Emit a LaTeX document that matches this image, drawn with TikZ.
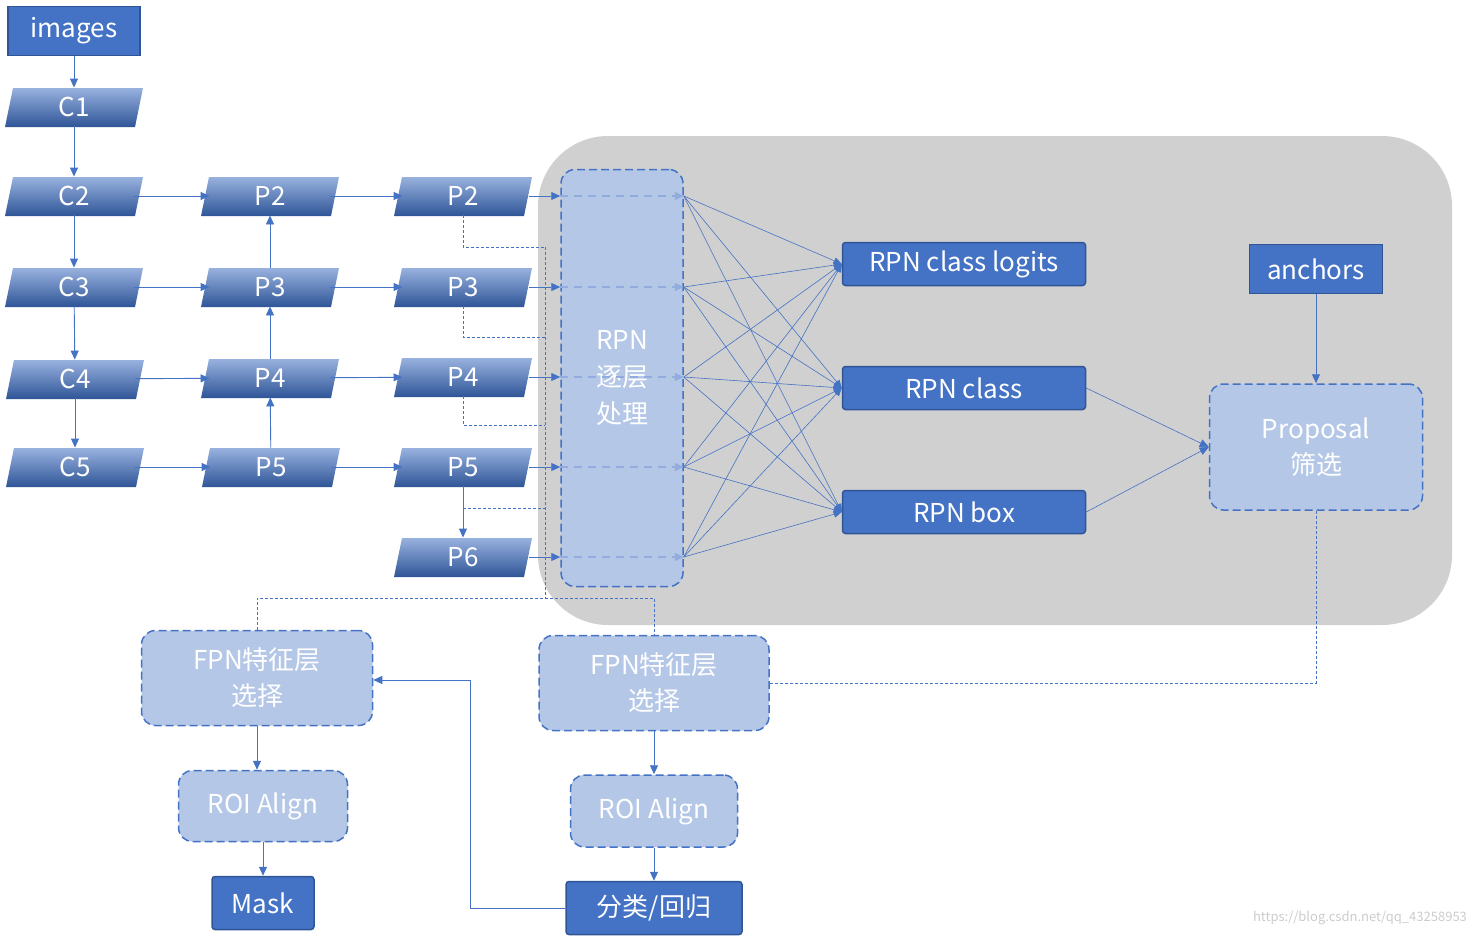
\documentclass[tikz,border=0pt]{standalone}
\usepackage{fontspec}
\setmainfont{Noto Sans CJK SC}
\usetikzlibrary{shapes.geometric,arrows.meta,calc}
\definecolor{blu}{HTML}{4472C4}
\definecolor{dblu}{HTML}{2F5597}
\definecolor{lblu}{HTML}{B4C7E7}
\definecolor{gry}{HTML}{D0D0D0}
\tikzset{every picture/.style={line width=0.9pt},
  feat/.style={minimum width=120pt,minimum height=38pt,inner sep=0pt,text=white,font=\fontsize{26}{28}\selectfont},
  solid box/.style={draw=dblu,line width=1.5pt,fill=blu,text=white,rounded corners=3pt,inner sep=0pt,font=\fontsize{26}{28}\selectfont},
  soft box/.style={draw=blu,line width=1.5pt,dash pattern=on 8pt off 4pt,fill=lblu,text=white,rounded corners=14pt,inner sep=0pt,align=center,font=\fontsize{26}{36}\selectfont},
  arr/.style={draw=blu,-{Triangle[width=8pt,length=9pt]}},
  dsh/.style={draw=blu,dash pattern=on 3pt off 2pt}}
% parallelogram feature map: name, x, y, text
\newcommand\featmap[4]{%
  \shade[top color=blu!55!white,middle color=blu,bottom color=dblu] (#2-61,#3-19) -- (#2+69,#3-19) -- (#2+61,#3+20) -- (#2-69,#3+20) -- cycle;
  \node[feat] (#1) at (#2,#3) {#4};}
\begin{document}
\begin{tikzpicture}[x=1pt,y=1pt,yscale=-1]
    \useasboundingbox (0,0) rectangle (1476,938);
    \fill[gry,rounded corners=70pt] (538,136) rectangle (1452,625);
    \node[solid box,rounded corners=0pt,minimum width=132pt,minimum height=49pt] (img) at (74,31) {images};
    \featmap{c1}{74}{107}{C1}
    \featmap{c2}{74}{196}{C2}
    \featmap{c3}{74}{287}{C3}
    \featmap{c4}{75}{379}{C4}
    \featmap{c5}{75}{467}{C5}
    \featmap{p2}{270}{196}{P2}
    \featmap{p3}{270}{287}{P3}
    \featmap{p4}{270}{378}{P4}
    \featmap{p5}{271}{467}{P5}
    \featmap{q2}{463}{196}{P2}
    \featmap{q3}{463}{287}{P3}
    \featmap{q4}{463}{377}{P4}
    \featmap{q5}{463}{467}{P5}
    \featmap{q6}{463}{557}{P6}
    \node[soft box,minimum width=122pt,minimum height=417pt] (rpn) at (622,378) {};
    \node[text=white,align=center,font=\fontsize{26}{37}\selectfont] (rpnt) at (622,378) {RPN\\逐层\\处理};
    \node[solid box,minimum width=243pt,minimum height=43pt] (logit) at (964,264) {RPN class logits};
    \node[solid box,minimum width=243pt,minimum height=43pt] (cls) at (964,388) {RPN class};
    \node[solid box,minimum width=243pt,minimum height=43pt] (box) at (964,512) {RPN box};
    \node[solid box,rounded corners=0pt,minimum width=133pt,minimum height=49pt] (anc) at (1316,269) {anchors};
    \node[soft box,minimum width=213pt,minimum height=126pt] (prop) at (1316,447) {Proposal\\筛选};
    \node[soft box,minimum width=231pt,minimum height=95pt] (fpna) at (257,678) {FPN特征层\\选择};
    \node[soft box,minimum width=230pt,minimum height=95pt] (fpnb) at (654,683) {FPN特征层\\选择};
    \node[soft box,minimum width=169pt,minimum height=71pt] (roia) at (263,806) {ROI Align};
    \node[soft box,minimum width=167pt,minimum height=72pt] (roib) at (654,811) {ROI Align};
    \node[solid box,minimum width=102pt,minimum height=53pt] (mask) at (263,903) {Mask};
    \node[solid box,minimum width=176pt,minimum height=53pt] (reg) at (654,908) {分类/回归};
    \node[text=gray!40,font=\fontsize{13}{15}\selectfont] (wm) at (1360,918) {https://blog.csdn.net/qq\_43258953};
    % backbone
    \draw[arr] (img) -- (c1);
    \draw[arr] (c1) -- (c2);
    \draw[arr] (c2) -- (c3);
    \draw[arr] (c3) -- (c4);
    \draw[arr] (c4) -- (c5);
    \draw[arr] (c2) -- (p2);
    \draw[arr] (c3) -- (p3);
    \draw[arr] (c4) -- (p4);
    \draw[arr] (c5) -- (p5);
    \draw[arr] (p5) -- (p4);
    \draw[arr] (p4) -- (p3);
    \draw[arr] (p3) -- (p2);
    \draw[arr] (p2) -- (q2);
    \draw[arr] (p3) -- (q3);
    \draw[arr] (p4) -- (q4);
    \draw[arr] (p5) -- (q5);
    \draw[arr] (q5) -- (q6);
    % into rpn
    \foreach \q in {q2,q3,q4,q5,q6} {
      \draw[arr] ([xshift=6pt]\q.east) -- (rpn.west |- \q);
      \draw[draw=blu!30!lblu,dash pattern=on 8pt off 6pt,line width=1.5pt,-{Triangle[width=8pt,length=9pt]}] (rpn.west |- \q) -- (rpn.east |- \q);
      \foreach \t in {logit,cls,box}
        \draw[draw=blu,line width=0.6pt,-{Triangle[width=7pt,length=8pt]}] (rpn.east |- \q) -- (\t.west);
    }
    \draw[arr,line width=0.6pt] (cls.east) -- (prop.west);
    \draw[arr,line width=0.6pt] (box.east) -- (prop.west);
    \draw[arr] (anc) -- (prop);
    % dashed routing
    \draw[dsh] (q2.south) |- (545,247);
    \draw[dsh] (q3.south) |- (545,337);
    \draw[dsh] (q4.south) |- (545,425);
    \draw[dsh] (463,508) -- (545,508);
    \draw[dsh] (545,247) -- (545,598);
    \draw[dsh] (fpna.north) |- (fpnb.north |- 0,598) -- (fpnb.north);
    \draw[dsh] (prop.south) |- (fpnb.east);
    % heads
    \draw[arr] (fpna) -- (fpna |- roia.north);
    \draw[arr] (roia) -- (mask);
    \draw[arr] (fpnb) -- (roib);
    \draw[arr] (roib) -- (reg);
    \draw[arr] (reg.west) -| (470,680) -- (fpna.east |- 0,680);
\end{tikzpicture}
\end{document}
